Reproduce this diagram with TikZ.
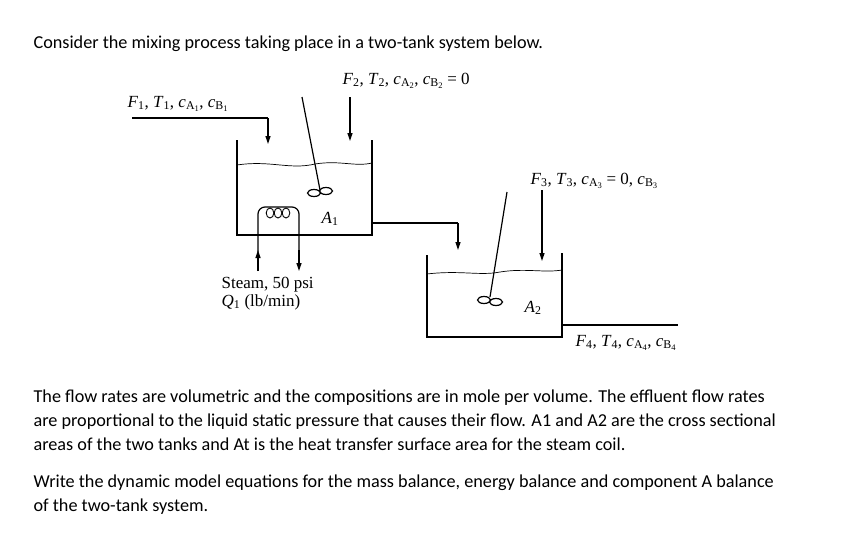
\documentclass[tikz,border=0pt]{standalone}
\usepackage{fontspec}
\setmainfont{Carlito}
\newfontfamily\lab{Liberation Serif}
\usetikzlibrary{arrows.meta}
\newcommand{\vr}[2]{\textit{#1}\textsubscript{#2}}
\newcommand{\cc}[2]{\textit{c}\textsubscript{#1\raisebox{-1.5pt}{\fontsize{8.5}{9}\selectfont #2}}}
\begin{document}
\begin{tikzpicture}[x=1pt,y=-1pt,line width=1.2pt,
  tip/.style={-{Triangle[length=8pt,width=5pt]}},
  lbl/.style={anchor=base west,inner sep=0,font=\lab\fontsize{17}{19}\selectfont},
  para/.style={anchor=base west,inner sep=0,font=\fontsize{18.2}{20}\selectfont}]
\useasboundingbox (0,0) rectangle (848,552);
\node[para] (t0) at (33,48) {Consider the mixing process taking place in a two-tank system below.};
% tank 1
\draw (237,140) -- (237,235) -- (372,235) -- (372,140);
\draw[line width=0.7pt] (237,165) .. controls (270,160) and (290,170) .. (315,164) .. controls (340,160) and (355,167) .. (372,163);
\draw (132,118) -- (268,118);
\draw[tip] (268,118) -- (268,144);
\draw[tip] (350,97) -- (350,141);
\draw (302,97) -- (320,190);
\draw (314,193) ellipse (6.5 and 3.5) (326,191) ellipse (6.5 and 3.5);
% coil
\draw (258,252) -- (258,214) to[out=90,in=180] (265,207) -- (292,207) to[out=0,in=90] (299,214) -- (299,252);
\draw[tip] (258,271) -- (258,250);
\draw[tip] (299,250) -- (299,271);
\draw[line width=0.9pt] (270,213) ellipse (3.8 and 5) (278,213) ellipse (3.8 and 5) (286,213) ellipse (3.8 and 5);
\node[lbl] (a1) at (321,223) {\vr{A}{1}};
\node[lbl] (f1) at (127,107) {\vr{F}{1}, \vr{T}{1}, \cc{A}{1}, \cc{B}{1}};
\node[lbl] (f2) at (342,84) {\vr{F}{2}, \vr{T}{2}, \cc{A}{2}, \cc{B}{2} = 0};
\node[lbl] (st) at (221,288) {Steam, 50 psi};
\node[lbl] (q1) at (221,306) {\vr{Q}{1} (lb/min)};
% connection
\draw (372,223) -- (458,223);
\draw[tip] (458,223) -- (458,250);
% tank 2
\draw (427,255) -- (427,337) -- (562,337) -- (562,253);
\draw[line width=0.7pt] (427,274) .. controls (460,270) and (480,276) .. (500,272) .. controls (525,268) and (545,273) .. (562,270);
\draw[tip] (542,190) -- (542,261);
\draw (507,192) -- (490,297);
\draw (484,300) ellipse (6.5 and 3.5) (496,302) ellipse (6.5 and 3.5);
\node[lbl] (a2) at (524,312) {\vr{A}{2}};
\node[lbl] (f3) at (530,184) {\vr{F}{3}, \vr{T}{3}, \cc{A}{3} = 0, \cc{B}{3}};
\draw (562,325) -- (678,325);
\node[lbl] (f4) at (575,346) {\vr{F}{4}, \vr{T}{4}, \cc{A}{4}, \cc{B}{4}};
% text
\node[para] (p1) at (33,402) {The flow rates are volumetric and the compositions are in mole per volume. The effluent flow rates};
\node[para] (p2) at (33,426) {are proportional to the liquid static pressure that causes their flow. A1 and A2 are the cross sectional};
\node[para] (p3) at (33,450) {areas of the two tanks and At is the heat transfer surface area for the steam coil.};
\node[para] (p4) at (33,487) {Write the dynamic model equations for the mass balance, energy balance and component A balance};
\node[para] (p5) at (33,511) {of the two-tank system.};
\end{tikzpicture}
\end{document}
